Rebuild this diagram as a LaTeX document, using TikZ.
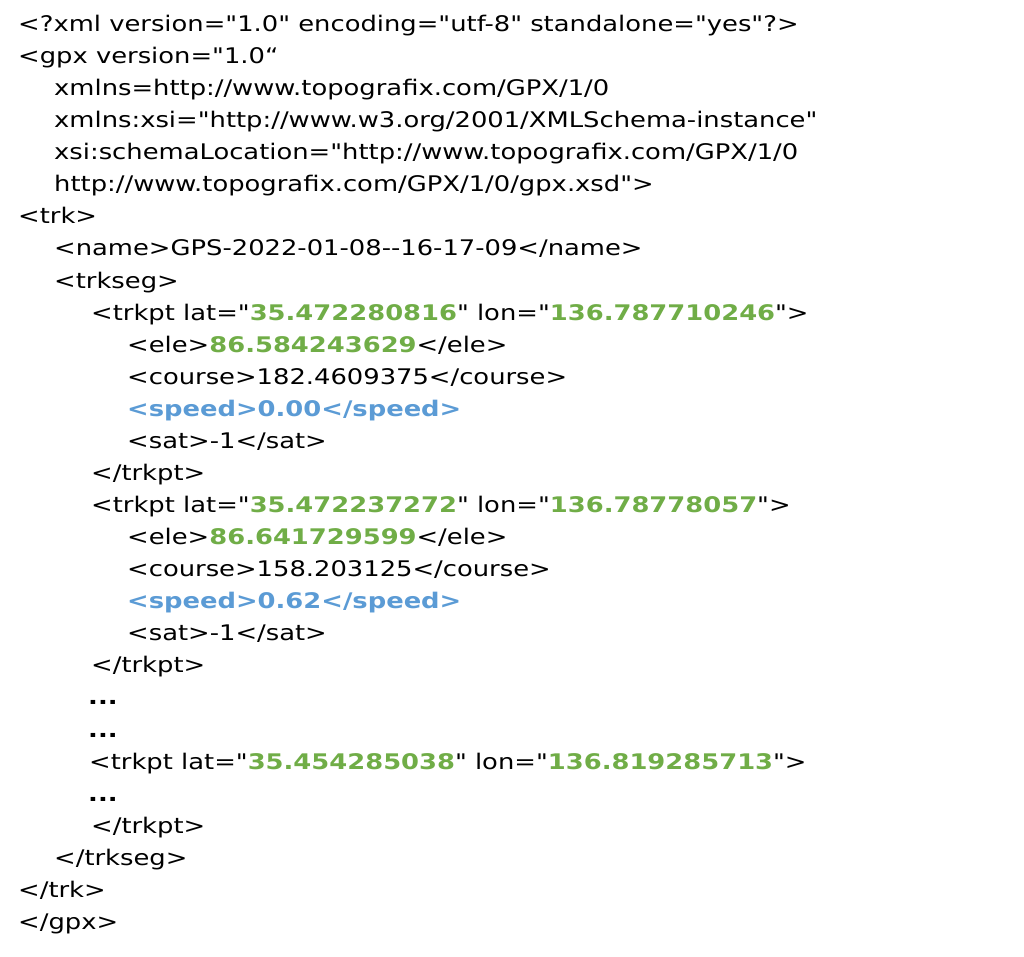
\documentclass[tikz,border=0pt]{standalone}
\usepackage{fontspec}
\setmainfont{DejaVu Sans}[Ligatures=TeXOff,FakeStretch=1.2]
\definecolor{numgreen}{HTML}{70AD47}
\definecolor{spdblue}{HTML}{5B9BD5}
\newcommand{\gn}[1]{{\bfseries\color{numgreen}#1}}
\begin{document}
\begin{tikzpicture}[x=1pt,y=1pt,
  codeline/.style={anchor=base west,inner sep=0pt,font=\fontsize{21.5}{26}\selectfont},
  spdline/.style={codeline,text=spdblue,font=\fontsize{21.5}{26}\selectfont\bfseries},
  dotline/.style={codeline,font=\fontsize{21.5}{26}\selectfont\bfseries}]
\useasboundingbox (0,0) rectangle (1024,956);
\def\lvA{18}\def\lvB{54}\def\lvC{91}\def\lvD{127}
\def\by{924.5}\def\dy{32.07}
\node[codeline] (l0) at (\lvA,{\by-\dy*0}) {<?xml version="1.0" encoding="utf-8" standalone="yes"?>};
\node[codeline] (l1) at (\lvA,{\by-\dy*1}) {<gpx version="1.0“};
\node[codeline] (l2) at (\lvB,{\by-\dy*2}) {xmlns=http://www.topografix.com/GPX/1/0};
\node[codeline] (l3) at (\lvB,{\by-\dy*3}) {xmlns:xsi="http://www.w3.org/2001/XMLSchema-instance"};
\node[codeline] (l4) at (\lvB,{\by-\dy*4}) {xsi:schemaLocation="http://www.topografix.com/GPX/1/0};
\node[codeline] (l5) at (\lvB,{\by-\dy*5}) {http://www.topografix.com/GPX/1/0/gpx.xsd">};
\node[codeline] (l6) at (\lvA,{\by-\dy*6}) {<trk>};
\node[codeline] (l7) at (\lvB,{\by-\dy*7}) {<name>GPS-2022-01-08--16-17-09</name>};
\node[codeline] (l8) at (\lvB,{\by-\dy*8}) {<trkseg>};
\node[codeline] (l9) at (\lvC,{\by-\dy*9}) {<trkpt lat="\gn{35.472280816}" lon="\gn{136.787710246}">};
\node[codeline] (l10) at (\lvD,{\by-\dy*10}) {<ele>\gn{86.584243629}</ele>};
\node[codeline] (l11) at (\lvD,{\by-\dy*11}) {<course>182.4609375</course>};
\node[spdline] (l12) at (\lvD,{\by-\dy*12}) {<speed>0.00</speed>};
\node[codeline] (l13) at (\lvD,{\by-\dy*13}) {<sat>-1</sat>};
\node[codeline] (l14) at (\lvC,{\by-\dy*14}) {</trkpt>};
\node[codeline] (l15) at (\lvC,{\by-\dy*15}) {<trkpt lat="\gn{35.472237272}" lon="\gn{136.78778057}">};
\node[codeline] (l16) at (\lvD,{\by-\dy*16}) {<ele>\gn{86.641729599}</ele>};
\node[codeline] (l17) at (\lvD,{\by-\dy*17}) {<course>158.203125</course>};
\node[spdline] (l18) at (\lvD,{\by-\dy*18}) {<speed>0.62</speed>};
\node[codeline] (l19) at (\lvD,{\by-\dy*19}) {<sat>-1</sat>};
\node[codeline] (l20) at (\lvC,{\by-\dy*20}) {</trkpt>};
\node[dotline] (l21) at (88,{\by-\dy*21}) {...};
\node[dotline] (l22) at (88,{\by-\dy*22}) {...};
\node[codeline] (l23) at (89,{\by-\dy*23}) {<trkpt lat="\gn{35.454285038}" lon="\gn{136.819285713}">};
\node[dotline] (l24) at (88,{\by-\dy*24}) {...};
\node[codeline] (l25) at (\lvC,{\by-\dy*25}) {</trkpt>};
\node[codeline] (l26) at (\lvB,{\by-\dy*26}) {</trkseg>};
\node[codeline] (l27) at (\lvA,{\by-\dy*27}) {</trk>};
\node[codeline] (l28) at (\lvA,{\by-\dy*28}) {</gpx>};
\end{tikzpicture}
\end{document}
